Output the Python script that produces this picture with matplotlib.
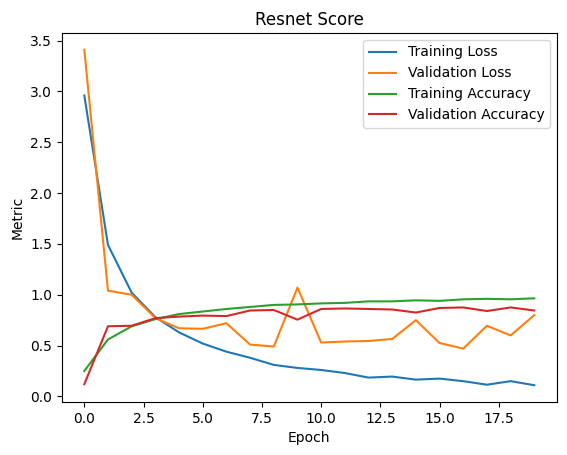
import matplotlib
matplotlib.use("Agg")
import matplotlib.pyplot as plt

epochs = list(range(20))
train_loss = [2.96, 1.49, 1.02, 0.78, 0.63, 0.52, 0.44, 0.38, 0.31, 0.28,
              0.26, 0.23, 0.185, 0.195, 0.165, 0.175, 0.15, 0.115, 0.15, 0.11]
val_loss = [3.41, 1.04, 1.00, 0.77, 0.67, 0.665, 0.72, 0.51, 0.49, 1.07,
            0.53, 0.54, 0.545, 0.565, 0.75, 0.525, 0.47, 0.695, 0.60, 0.80]
train_acc = [0.25, 0.56, 0.69, 0.76, 0.81, 0.835, 0.86, 0.88, 0.90, 0.905,
             0.915, 0.92, 0.935, 0.935, 0.945, 0.94, 0.955, 0.96, 0.955, 0.965]
val_acc = [0.12, 0.69, 0.695, 0.77, 0.785, 0.795, 0.79, 0.845, 0.85, 0.755,
           0.86, 0.865, 0.86, 0.855, 0.825, 0.87, 0.875, 0.84, 0.875, 0.845]

fig = plt.figure(figsize=(5.67, 4.55), dpi=100)
ax = fig.add_axes([0.109, 0.1165, 0.873, 0.811])

ax.plot(epochs, train_loss, label="Training Loss")
ax.plot(epochs, val_loss, label="Validation Loss")
ax.plot(epochs, train_acc, label="Training Accuracy")
ax.plot(epochs, val_acc, label="Validation Accuracy")

ax.set_title("Resnet Score")
ax.set_xlabel("Epoch")
ax.set_ylabel("Metric")
ax.legend()

fig.savefig("out.png", dpi=100)
